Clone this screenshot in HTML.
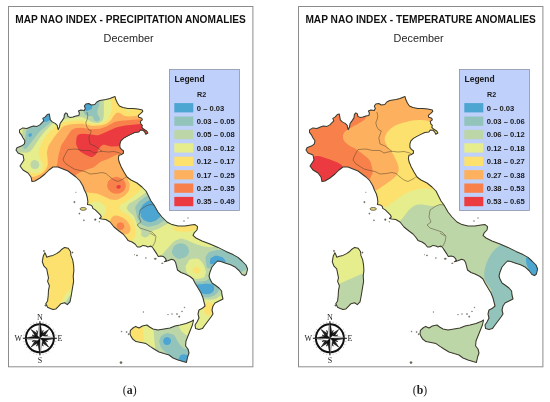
<!DOCTYPE html><html><head><meta charset="utf-8"><title>MAP NAO INDEX</title><style>html,body{margin:0;padding:0;background:#fff}svg{display:block}</style></head><body>
<svg width="550" height="402" viewBox="0 0 550 402">
<defs><clipPath id="land"><path d="M19.5,132.4 19.5,129.9 22.9,127.9 26.9,128.4 30.4,126.9 33.4,125.9 36.9,126.4 39.8,124.9 41.8,122.9 43.8,120.9 42.8,118.4 45.3,116.9 47.3,114.5 49.3,114.0 49.8,116.9 50.3,119.9 52.3,121.9 55.2,123.4 57.2,125.4 57.7,128.0 58.2,129.6 59.5,127.0 60.0,123.8 61.2,121.9 62.0,120.9 64.0,117.9 64.4,114.4 65.9,112.9 67.4,113.9 67.9,116.4 69.9,117.4 72.9,116.9 75.9,115.9 78.9,115.4 79.4,112.9 78.4,110.9 80.9,109.9 84.3,110.4 85.3,108.4 84.3,106.0 85.8,104.0 88.8,103.5 91.3,105.0 94.8,104.5 96.8,102.0 99.7,100.5 106.0,99.5 110.0,98.6 113.0,97.3 115.0,96.5 115.6,99.0 117.4,103.0 119.4,106.0 122.9,107.4 127.9,108.4 132.9,108.4 137.8,108.9 142.3,109.9 142.8,111.4 140.8,113.4 138.3,115.4 138.8,117.3 141.8,118.3 142.3,119.8 140.3,121.3 140.8,123.8 142.3,125.3 141.8,127.3 143.8,129.3 146.7,131.0 147.9,133.0 145.8,134.2 144.6,131.8 143.0,130.3 140.3,130.0 138.8,132.0 134.8,132.5 130.8,134.4 126.9,136.4 123.4,138.4 120.9,140.9 119.9,143.9 119.9,147.4 121.4,149.4 123.4,150.8 123.4,153.3 120.9,154.8 118.9,155.3 118.4,158.8 119.4,162.8 120.4,164.8 121.0,166.5 124.0,172.0 127.0,177.0 131.0,180.0 137.0,183.0 142.0,187.0 146.0,191.0 149.0,197.0 151.0,201.0 154.0,205.0 158.0,212.0 162.0,217.0 167.0,222.0 172.0,224.6 178.0,226.0 185.0,226.0 191.0,225.0 195.0,224.6 197.6,226.6 197.0,230.0 194.4,232.6 193.0,235.4 196.0,238.0 202.0,241.0 210.0,244.0 218.0,247.4 226.0,251.4 233.0,254.6 238.0,257.4 242.0,261.0 246.0,265.0 247.6,269.0 246.4,274.0 244.6,275.6 242.0,274.5 239.0,270.5 235.5,267.3 230.6,264.8 225.7,263.2 220.8,261.5 217.5,261.0 215.0,263.5 212.0,267.0 210.0,272.0 209.0,276.0 210.0,279.0 212.0,283.0 215.0,285.0 219.0,288.0 221.6,291.0 222.0,295.0 223.0,299.0 219.0,301.0 215.0,303.0 213.0,306.0 212.0,310.0 213.0,314.0 211.0,317.0 208.0,321.0 205.0,325.0 202.4,328.6 199.0,329.4 195.6,328.6 195.0,325.0 197.0,322.0 199.0,318.0 198.0,314.0 199.0,310.0 202.0,308.6 205.0,306.0 204.0,302.0 203.0,298.0 201.0,293.0 198.0,288.0 195.0,283.0 193.0,279.0 190.0,276.5 185.0,274.0 181.0,272.5 177.5,270.0 176.7,266.8 175.7,262.8 174.2,260.3 171.7,259.3 167.8,260.8 164.3,261.8 166.3,260.3 165.3,258.3 163.3,256.4 160.8,255.9 158.3,256.4 156.8,253.9 154.8,250.9 152.9,248.0 150.9,246.0 147.9,247.0 145.9,246.0 143.0,245.4 140.0,247.0 137.4,247.0 135.0,244.0 132.0,242.0 128.0,240.4 126.0,237.5 123.0,234.0 119.0,231.0 114.0,227.0 110.0,222.0 105.8,219.5 101.8,219.0 99.5,218.5 101.3,216.8 100.3,214.8 97.8,212.3 95.3,209.9 92.8,208.4 92.3,206.4 90.4,204.9 87.4,204.4 87.9,202.0 87.4,198.0 86.4,194.0 84.4,190.0 82.9,186.0 80.0,181.0 76.0,177.0 72.0,174.0 68.0,171.0 63.0,169.0 58.0,167.0 53.0,167.0 49.0,170.0 45.0,174.0 40.0,178.0 35.0,181.0 32.0,181.6 31.0,177.0 28.0,173.0 23.0,170.0 20.0,166.0 22.0,163.0 24.0,160.0 23.0,155.0 18.0,153.0 16.0,150.0 17.0,147.8 21.9,145.8 24.4,143.8 24.9,140.8 22.9,137.8 21.4,134.8ZM130.0,334.0 130.4,330.4 133.0,328.0 135.6,326.4 139.0,328.0 142.4,326.0 147.0,325.0 149.6,327.0 153.0,329.0 158.0,330.0 164.0,329.0 170.0,328.0 175.0,326.0 180.0,325.0 186.0,323.6 191.0,321.6 193.6,320.0 192.4,325.0 190.4,330.0 188.0,336.0 186.0,341.0 185.6,346.0 188.0,349.0 189.0,353.0 187.6,357.0 186.4,362.4 183.0,361.6 178.0,360.0 173.0,358.0 169.0,355.0 164.0,353.6 159.0,352.0 154.0,349.0 150.0,346.4 146.0,343.6 141.0,342.4 136.0,341.6 132.6,339.0 131.0,336.4ZM44.9,252.7 43.2,256.3 42.3,261.7 44.0,266.2 46.7,268.8 47.6,273.3 48.5,277.8 47.6,281.4 49.4,285.8 48.5,290.3 48.2,295.7 47.6,301.0 45.8,303.7 47.6,307.3 50.3,308.5 53.0,309.6 55.7,309.1 58.4,306.4 61.0,303.7 64.6,302.8 67.3,304.6 70.0,301.9 70.9,297.5 71.8,292.1 72.7,286.7 73.6,281.4 73.2,276.0 73.9,270.6 73.6,265.3 72.7,259.9 70.9,255.4 70.6,251.8 68.2,248.3 64.6,247.4 61.9,249.2 59.3,251.8 56.6,253.6 53.0,255.4 49.4,256.3 46.7,257.2 45.8,254.5Z"/></clipPath></defs>
<rect width="550" height="402" fill="#fff"/>
<rect x="8.5" y="6.5" width="244.4" height="360.3" fill="#fff" stroke="#8c8c8c" stroke-width="1"/>
<rect x="298.5" y="6.5" width="244.4" height="360.3" fill="#fff" stroke="#8c8c8c" stroke-width="1"/>
<g id="mapA">
<g clip-path="url(#land)">
<rect x="0" y="80" width="270" height="300" fill="#4DA6D2"/>
<path d="M269.5,379.6 259.5,379.5 258.5,378.5 257.0,378.0 254.5,376.0 253.0,375.5 252.0,374.5 251.5,374.5 249.5,373.0 248.0,372.5 245.5,370.5 245.0,370.5 244.5,370.0 244.0,370.0 243.5,369.5 243.0,369.5 242.5,369.0 242.0,369.0 241.5,368.5 241.0,368.5 240.5,368.0 240.0,368.0 239.5,367.5 239.0,367.5 238.5,367.0 235.0,365.5 234.0,364.5 233.5,364.5 233.0,364.0 232.5,364.0 232.0,363.5 231.5,363.5 231.0,363.0 230.5,363.0 230.0,362.5 229.5,362.5 229.0,362.0 228.5,362.0 228.0,361.5 227.5,361.5 227.0,361.0 226.5,361.0 226.0,360.5 225.5,360.5 225.0,360.0 224.5,360.0 224.0,359.5 223.5,359.5 223.0,359.0 222.5,359.0 222.0,358.5 218.5,357.0 216.5,355.5 215.5,355.5 214.0,354.5 211.5,354.0 211.0,353.5 210.5,353.5 210.0,353.0 209.0,353.0 207.5,352.0 206.0,352.0 205.5,352.5 204.5,352.5 204.0,353.0 203.0,353.0 202.5,353.5 201.5,353.5 201.0,354.0 200.0,354.0 199.5,354.5 198.5,354.5 198.0,355.0 197.0,355.0 196.5,355.5 194.5,354.9 192.4,352.5 191.5,352.2 188.8,354.5 187.5,355.2 184.0,354.3 182.0,354.5 180.8,355.0 179.6,356.5 178.5,359.2 177.1,361.5 173.9,379.5 106.5,379.8 0.0,379.8 -0.3,379.5 -0.3,60.5 0.0,53.8 1.0,54.5 1.6,55.5 24.5,103.2 29.0,110.4 34.0,115.5 40.0,118.5 41.4,120.0 43.0,121.0 45.0,121.8 46.5,121.9 48.5,120.9 51.5,117.5 56.8,115.0 57.8,114.0 56.9,112.0 47.4,45.5 46.9,41.0 47.0,39.7 47.5,39.5 50.0,44.6 71.0,96.8 72.0,98.0 80.8,105.0 81.6,106.0 82.0,107.3 84.0,108.3 86.0,111.0 87.0,111.0 88.5,110.2 91.5,109.2 92.2,107.5 92.3,104.5 89.0,95.5 65.3,0.0 105.5,-0.3 269.5,-0.3 269.8,0.0 269.6,227.0 269.8,375.0ZM31.1,136.5 31.8,135.5 31.9,134.0 31.0,133.2 29.5,133.2 28.4,134.5 28.5,136.0 29.5,136.9ZM151.7,222.0 155.5,220.8 159.6,217.5 160.6,216.0 159.9,214.0 152.9,202.5 151.5,200.7 150.0,200.1 147.0,201.5 143.0,204.5 140.4,209.0 140.1,211.5 140.9,216.5 143.6,220.0 145.4,221.0 148.5,222.1 150.0,222.2ZM214.6,264.0 225.0,262.7 225.5,262.5 225.8,261.5 224.3,259.0 222.5,257.2 217.5,255.7 215.5,255.6 213.5,256.4 210.9,258.0 210.3,259.0 209.9,261.5 209.9,263.0 210.5,264.1 212.0,264.3ZM209.0,294.0 211.5,293.0 213.1,291.5 214.0,290.1 214.1,288.5 213.8,286.0 213.5,284.9 213.0,284.5 206.5,283.6 201.0,284.3 197.0,284.4 196.0,285.0 196.1,286.0 196.8,287.5 199.2,291.5 200.5,293.0 205.5,294.3ZM72.5,303.0 72.9,302.5 72.2,301.5 71.5,301.1 71.0,301.3 70.7,302.5 71.5,303.0ZM78.4,358.0 87.0,341.4 94.8,325.5 94.3,325.0 69.5,314.0 67.0,313.4 67.0,314.3 77.0,355.9 77.7,358.0 78.0,358.4ZM167.8,345.0 169.0,344.5 170.2,343.5 170.9,342.0 171.1,340.5 170.5,339.0 169.7,338.0 168.0,337.2 166.5,337.1 165.0,337.7 164.0,338.5 163.3,340.0 163.1,341.5 163.6,343.0 164.5,344.2 166.0,345.0Z" fill="#92C4BC" fill-rule="evenodd"/>
<path d="M155.5,379.5 77.5,379.7 0.0,379.7 -0.2,379.5 0.0,55.0 0.8,56.0 6.7,68.0 26.1,108.5 26.7,113.0 25.8,119.5 25.6,125.5 26.0,126.2 27.0,126.5 30.5,125.7 31.4,126.0 30.6,127.0 26.8,130.0 26.0,131.5 25.2,138.0 23.2,147.0 23.5,148.8 25.0,149.1 26.3,148.5 27.5,147.3 38.4,133.0 40.8,130.5 51.5,122.1 58.1,118.0 62.5,116.0 70.0,113.9 78.3,111.0 81.5,110.3 82.3,110.5 83.0,111.1 84.8,114.5 86.0,115.5 87.5,115.9 91.5,116.1 92.5,116.4 93.0,117.1 93.9,120.0 95.0,120.8 96.5,121.4 97.5,121.4 98.5,121.0 99.6,120.0 99.8,119.0 99.5,117.5 97.7,114.5 97.2,112.0 97.5,110.0 99.5,104.0 99.2,100.5 95.3,87.5 72.5,0.0 269.5,-0.2 269.7,0.0 269.8,96.5 269.5,168.5 268.0,170.0 268.0,170.5 266.5,172.0 266.5,172.5 265.0,174.0 265.0,174.5 263.5,176.0 263.5,176.5 262.0,178.0 262.0,178.5 260.5,180.0 260.5,180.5 259.0,182.0 259.0,182.5 257.5,184.0 257.5,184.5 256.0,186.0 256.0,186.5 254.5,188.0 254.5,188.5 251.5,192.0 251.5,192.5 249.0,195.5 249.0,196.0 248.0,197.0 248.0,197.5 246.5,199.0 246.5,199.5 245.5,200.5 245.5,201.0 244.5,202.0 244.5,202.5 243.0,204.0 243.0,204.5 242.0,205.5 242.0,206.0 240.5,207.5 240.5,208.0 239.5,209.0 239.5,209.5 237.0,212.5 237.0,214.0 236.5,214.5 236.5,215.5 236.0,216.0 236.0,217.0 235.5,217.5 235.5,219.0 235.0,219.5 235.0,220.5 234.5,221.0 234.5,222.0 234.0,222.5 234.0,224.0 233.5,224.5 233.5,225.5 233.0,226.0 233.0,227.0 232.5,227.5 232.5,229.0 232.0,229.5 232.0,230.5 231.5,231.0 231.5,232.0 231.0,232.5 231.0,234.0 230.5,234.5 230.5,235.5 230.0,236.0 230.0,238.0 233.0,242.0 232.9,243.5 231.5,245.0 229.0,246.7 226.2,249.5 223.5,250.2 216.5,249.9 210.5,251.5 208.7,252.5 205.9,256.0 205.6,257.5 205.8,262.5 206.5,266.4 207.0,267.6 207.5,268.0 208.5,268.2 214.5,267.8 215.2,268.0 215.5,269.0 210.0,277.3 207.4,280.0 205.5,280.7 201.0,281.6 194.0,281.4 192.8,282.0 188.5,297.7 187.4,304.5 187.6,306.0 188.5,307.7 189.5,308.4 190.5,308.3 193.5,306.5 199.5,301.9 203.0,297.4 204.0,297.2 209.0,297.2 214.0,295.8 218.2,292.0 219.4,288.0 220.5,286.6 242.0,271.4 267.5,259.9 269.5,259.3 269.5,378.9 268.0,378.3 246.0,364.9 220.5,351.7 207.5,346.9 204.5,346.8 197.5,347.3 196.8,346.5 196.8,344.5 199.5,339.3 199.6,338.0 195.5,341.5 189.0,345.6 186.0,348.5 185.0,348.9 182.6,347.5 180.6,345.5 178.0,342.0 175.4,337.0 174.0,335.0 172.5,334.2 167.5,333.0 164.0,334.2 161.1,336.0 159.6,339.5 159.2,342.0 160.5,346.5 161.3,348.0 164.5,351.4 167.0,353.5 168.5,355.5 168.8,357.0 168.5,359.5 168.0,360.4 165.5,360.5 165.0,361.0 165.0,361.5 164.5,362.0 164.5,362.5 164.0,363.0 164.0,363.5 163.5,364.0 163.5,364.5 163.0,365.0 163.0,365.5 162.5,366.0 162.5,366.5 162.0,367.0 160.5,370.5 159.5,371.5 159.5,372.0 158.5,373.0 158.5,373.5 157.5,375.0 157.5,376.0 156.0,378.5 156.0,379.5ZM74.5,108.0 73.0,108.0 72.0,107.0 71.5,101.5 72.0,100.2 73.0,100.4 74.0,101.1 78.8,105.0 79.5,106.0 79.1,106.5 78.0,107.0ZM189.6,184.0 192.9,179.0 193.2,178.0 193.0,177.3 190.5,177.9 187.5,179.3 186.6,180.0 186.6,181.5 187.7,183.5 188.5,184.2ZM150.6,226.5 157.0,225.1 164.0,220.8 170.0,219.0 170.3,218.0 166.3,211.0 163.6,207.5 159.2,203.5 152.0,197.5 150.0,196.1 148.5,195.7 145.0,197.1 139.2,201.5 135.7,206.0 135.2,208.0 137.3,218.0 140.6,223.5 142.5,224.9 147.0,226.6 148.5,226.8ZM179.6,259.0 184.0,257.8 185.5,257.0 188.1,254.5 189.2,251.5 188.0,247.3 187.1,246.0 184.5,244.0 181.0,243.2 177.0,244.0 174.8,245.5 173.0,247.7 171.9,251.5 172.4,254.0 173.9,256.0 177.0,258.5ZM88.4,311.0 87.2,309.5 84.9,307.5 72.5,297.9 71.5,297.7 70.5,298.2 66.6,303.5 67.0,304.2 68.4,305.0 80.6,309.5 87.0,311.4 88.0,311.5ZM78.1,361.5 88.0,342.6 96.4,326.0 96.6,325.0 95.5,323.9 69.6,312.5 66.5,311.2 65.5,311.1 65.1,312.0 65.2,313.0 75.0,353.8 77.0,361.3 77.5,361.8Z" fill="#BDD6A8" fill-rule="evenodd"/>
<path d="M139.0,379.5 -0.1,379.5 0.0,162.6 2.2,162.0 12.8,157.5 16.5,155.5 18.5,155.2 19.5,153.0 20.0,152.6 27.0,152.8 30.0,151.5 32.0,149.4 39.7,138.0 43.4,133.0 51.5,124.6 53.0,123.7 57.5,122.5 63.5,119.1 78.5,116.9 81.0,116.9 82.5,117.3 88.0,119.7 92.0,122.3 97.5,123.1 99.0,122.8 101.0,121.8 102.0,121.0 103.0,119.5 103.8,115.0 103.9,104.0 103.5,99.0 101.5,94.0 83.5,22.0 83.4,20.5 81.5,14.0 80.9,10.5 80.0,8.0 80.0,6.5 79.6,6.0 79.5,4.5 79.0,3.5 79.0,0.0 269.5,-0.1 269.8,96.5 269.5,159.5 268.7,160.0 267.5,161.5 245.0,191.5 233.5,207.6 224.6,223.0 222.5,227.4 217.0,227.0 215.2,226.0 201.5,206.5 197.5,201.2 196.0,199.7 197.5,203.4 207.5,222.0 210.5,228.5 211.5,232.5 212.0,240.0 214.5,245.4 214.3,246.5 213.0,247.1 211.0,247.3 205.5,246.7 201.0,245.8 195.5,243.9 186.5,240.1 182.5,238.7 181.0,238.6 176.0,240.3 174.0,241.6 169.6,246.0 161.7,255.0 161.4,256.0 161.5,257.5 165.9,280.0 166.1,283.0 165.0,288.2 157.0,315.6 154.4,327.0 153.5,329.0 154.3,340.0 155.2,347.5 155.0,348.0 154.0,348.5 151.5,348.3 151.1,348.5 151.0,350.0 152.3,354.5 152.0,355.5 151.5,356.0 151.5,356.5 151.0,357.0 151.0,357.5 150.5,358.0 149.0,361.5 148.0,362.5 148.0,363.0 147.5,363.5 147.5,364.0 147.0,364.5 147.0,365.0 146.5,365.5 146.5,366.0 146.0,366.5 146.0,367.0 145.5,367.5 145.5,368.0 145.0,368.5 145.0,369.0 144.5,369.5 143.0,373.0 142.0,374.0 142.0,374.5 141.5,375.0 141.5,375.5 141.0,376.0 139.5,379.5ZM19.5,139.6 0.0,138.2 0.0,57.0 19.0,95.8 23.5,105.4 25.1,109.5 25.3,113.0 23.6,128.0 22.4,130.5 22.6,133.0 22.0,135.5 20.5,138.7ZM36.0,169.0 37.5,168.3 38.5,167.4 39.3,165.5 39.2,164.0 38.5,162.3 37.5,161.1 35.0,160.0 33.5,160.1 32.0,160.9 31.1,162.0 30.4,164.0 30.4,165.5 31.4,167.5 32.5,168.4 34.5,169.1ZM189.4,185.5 191.1,183.5 193.9,179.0 194.7,177.0 194.5,175.0 193.5,173.1 192.5,172.0 191.0,172.0 192.5,170.5 192.5,170.0 193.5,169.0 193.5,168.5 196.5,165.0 189.0,165.0 184.5,168.0 184.5,168.5 187.5,172.5 187.6,173.5 187.0,174.2 185.2,178.5 184.8,180.0 184.9,181.0 185.8,183.0 187.5,185.5 188.5,186.0ZM146.9,237.0 149.2,235.5 149.7,234.5 150.1,232.5 151.8,231.0 158.5,228.8 167.0,224.1 178.2,222.5 179.7,222.0 180.2,221.0 179.5,219.5 177.8,217.0 173.8,213.0 150.5,193.4 149.0,192.3 148.0,191.9 145.5,192.8 135.5,200.1 129.5,203.2 128.0,205.0 126.5,208.0 128.7,211.5 134.0,216.0 137.9,226.5 141.4,231.0 141.5,232.0 141.0,234.0 141.5,235.7 142.5,236.5 144.5,237.4 145.5,237.4ZM196.5,279.0 195.0,278.8 190.0,276.9 186.9,272.5 186.0,270.5 185.6,267.0 185.7,265.5 187.4,263.5 188.7,260.5 191.0,259.0 197.0,258.6 198.5,258.9 200.0,259.9 201.5,261.5 204.0,265.4 206.1,272.0 205.0,275.7 203.8,277.5 201.5,278.3ZM188.5,335.6 187.0,335.5 185.3,334.5 181.5,331.2 179.5,328.1 178.6,326.0 178.7,325.0 199.0,309.6 200.5,307.4 203.0,301.0 204.0,299.9 205.0,299.6 211.5,299.7 216.4,298.5 218.7,297.0 223.5,292.9 228.5,289.4 232.0,287.4 233.0,287.4 232.0,290.0 226.8,298.0 213.7,316.0 206.0,325.7 203.5,327.9 200.5,328.9 192.0,334.0ZM103.7,319.5 103.1,318.5 100.9,316.5 85.5,304.0 76.5,296.3 73.5,294.1 72.0,294.1 69.5,295.8 66.4,300.5 62.9,304.0 63.0,305.0 66.1,306.5 96.9,318.0 101.7,319.5ZM269.5,377.9 266.0,376.1 245.0,363.2 237.0,358.8 221.0,350.6 211.0,346.7 204.2,344.5 201.5,343.0 201.4,340.5 201.9,338.5 210.6,325.5 212.9,321.0 221.5,308.0 224.1,305.5 228.5,299.0 230.0,297.8 236.5,295.5 237.5,295.7 240.0,297.2 253.4,306.5 258.0,311.5 268.5,322.1 269.5,322.8ZM77.9,363.0 79.1,361.5 97.2,326.0 97.4,324.5 96.0,323.3 66.5,310.3 65.0,310.1 64.3,311.0 64.3,312.5 73.8,352.0 76.4,362.0 77.0,363.1Z" fill="#E6ED8C" fill-rule="evenodd"/>
<path d="M117.5,379.5 -0.0,379.5 0.0,204.0 1.5,202.5 1.5,202.0 4.5,198.5 4.5,198.0 5.5,197.0 5.5,196.5 7.0,195.0 7.0,194.5 8.5,193.0 8.5,192.5 9.5,191.5 9.5,191.0 11.0,189.5 11.0,189.0 12.5,187.5 12.5,187.0 14.0,185.5 14.0,185.0 15.0,184.0 15.0,183.5 16.5,182.0 16.5,181.5 19.0,178.5 19.5,178.5 19.5,179.0 20.1,179.5 24.0,180.8 25.7,182.5 26.5,185.8 28.2,190.5 31.5,203.9 31.5,201.9 25.8,174.5 25.7,172.0 26.5,171.4 32.0,173.0 36.5,172.9 39.0,171.9 41.1,170.5 42.1,169.5 43.0,166.0 43.0,164.0 39.2,156.5 38.6,153.5 38.7,151.5 40.2,146.5 43.5,139.4 47.4,134.0 49.0,132.2 55.7,126.5 64.0,122.3 70.0,121.1 76.5,120.5 82.5,120.8 92.0,124.1 99.0,124.2 101.5,123.4 105.9,121.0 108.1,119.0 109.1,117.5 110.7,113.0 111.7,108.5 111.7,105.0 111.3,102.5 109.0,96.5 104.6,71.5 104.5,69.5 104.1,68.5 104.0,66.0 103.5,65.0 103.5,62.0 103.0,61.5 103.0,57.5 102.5,57.0 102.5,53.5 102.0,53.0 102.0,49.0 101.5,48.5 101.5,44.5 101.0,44.0 101.0,40.0 100.5,39.5 100.5,35.5 100.0,35.0 100.0,31.5 99.5,31.0 99.5,27.0 99.0,26.5 99.0,22.5 98.5,22.0 98.5,18.0 98.0,17.5 98.0,13.5 97.5,13.0 97.5,9.5 97.0,9.0 97.0,5.0 96.5,4.5 96.5,0.0 269.5,-0.0 269.7,96.5 269.5,158.0 268.5,158.4 267.4,159.5 245.5,188.8 242.0,192.9 228.5,207.2 216.5,217.9 211.5,216.4 209.5,215.1 191.5,188.1 190.7,186.5 191.0,185.5 194.8,179.5 197.0,175.2 205.9,163.0 206.2,162.0 205.9,161.5 204.5,161.1 202.0,161.0 197.5,161.5 185.5,161.5 177.0,163.2 170.8,161.0 172.0,163.8 191.0,197.4 195.5,206.5 196.5,209.5 196.8,212.0 197.9,226.5 197.5,228.5 192.0,231.1 185.5,231.9 176.0,231.1 174.7,230.5 173.5,229.5 172.3,228.0 172.5,227.5 188.0,225.4 189.3,225.0 189.7,224.5 189.7,224.0 187.8,221.5 176.5,210.5 149.5,180.7 148.0,179.5 147.0,179.5 142.5,184.0 140.0,190.0 138.8,191.5 133.6,196.0 129.6,199.0 123.3,203.5 120.5,204.8 119.7,206.0 119.8,208.5 121.2,210.5 123.0,212.2 128.5,215.3 131.2,218.5 133.7,223.0 135.4,229.5 135.5,231.5 134.8,237.0 132.4,241.0 130.2,245.5 129.1,248.0 128.5,251.0 84.0,287.0 73.5,287.6 72.0,288.2 69.0,290.2 67.3,292.0 64.7,295.5 62.6,300.5 59.3,304.0 58.7,305.0 58.8,305.5 59.5,306.3 63.9,308.5 63.2,310.5 63.3,312.5 75.3,362.0 76.0,363.9 77.0,364.5 78.5,363.9 79.7,362.0 98.8,324.5 98.3,323.5 96.5,322.3 86.6,318.0 80.7,315.0 83.0,315.5 111.0,325.8 117.5,327.8 118.5,327.9 119.0,327.5 117.9,326.0 113.5,321.5 113.3,321.0 113.4,320.5 116.0,320.7 136.0,324.5 138.5,324.8 141.0,324.6 142.0,325.2 142.8,327.5 143.6,335.0 144.0,341.0 143.5,341.7 141.0,341.4 125.5,335.5 124.4,335.5 125.6,336.5 127.5,337.1 129.6,338.5 135.5,341.2 138.0,342.8 139.3,344.5 140.1,348.0 141.0,349.5 132.0,358.5 132.0,359.0 129.5,362.0 129.5,362.5 128.5,363.5 128.5,364.0 127.5,365.0 127.5,365.5 126.5,366.5 126.5,367.0 125.5,368.0 125.5,368.5 124.5,369.5 124.5,370.0 123.5,371.0 123.5,371.5 122.5,372.5 122.5,373.0 121.0,374.5 121.0,375.0 120.0,376.0 120.0,376.5 119.0,377.5 119.0,378.0 118.0,379.0 118.0,379.5ZM128.8,105.5 129.2,105.0 129.4,104.0 129.5,98.5 129.2,97.0 128.5,96.4 127.5,97.0 127.0,98.0 126.6,103.0 127.1,105.0 128.0,105.7ZM129.3,111.5 129.4,110.5 128.7,109.5 127.0,108.5 126.0,108.3 125.7,108.5 127.6,111.5 128.5,111.9ZM84.3,232.5 88.0,229.7 100.9,219.0 105.0,214.0 106.2,210.0 105.6,207.0 104.6,205.5 100.5,202.2 97.0,201.3 95.0,201.4 89.5,203.5 88.7,204.0 87.8,205.0 82.6,231.5 82.6,232.5 83.0,232.9ZM32.1,206.0 32.1,205.5 32.0,204.9 32.0,206.3ZM36.2,227.0 35.2,220.0 35.0,219.3 34.5,219.3 34.5,221.5 36.0,227.3ZM197.5,273.5 196.0,273.5 194.5,273.0 193.0,271.4 192.7,270.0 193.0,269.0 193.6,268.0 195.0,267.1 196.5,266.8 198.0,267.2 199.3,268.0 199.9,269.0 200.1,270.5 199.5,272.1 198.7,273.0ZM210.0,315.5 207.2,315.5 206.0,314.8 204.5,312.7 203.7,309.5 203.8,307.0 204.7,304.0 205.5,303.2 208.5,302.3 209.9,302.5 212.4,303.5 213.1,304.5 212.4,312.5 211.5,314.6ZM223.5,316.5 223.4,316.0 222.5,316.0 222.0,315.5 221.4,313.0 221.6,311.5 222.3,310.5 223.0,310.2 223.5,310.5 224.1,311.5 224.4,313.5 224.5,315.4Z" fill="#FDE16F" fill-rule="evenodd"/>
<path d="M49.0,227.0 43.5,227.3 42.5,226.6 41.5,224.5 38.0,210.7 31.3,180.0 31.1,177.5 31.5,177.0 34.5,176.8 40.5,174.2 43.5,172.0 45.7,169.5 47.3,166.5 47.8,164.5 47.5,158.0 46.8,152.5 48.5,145.8 54.2,137.0 61.1,128.5 63.2,126.5 65.0,125.7 69.5,124.6 77.5,123.7 82.5,123.8 92.5,126.0 101.5,125.3 106.0,123.9 108.2,122.5 111.1,120.0 113.5,116.1 115.5,113.8 116.5,113.0 118.0,112.6 120.0,113.1 123.5,115.5 126.5,116.3 129.0,116.5 140.0,115.4 141.5,115.8 143.5,117.7 144.0,117.4 145.0,115.7 146.0,115.4 160.0,115.2 172.5,114.0 185.8,111.0 269.5,90.3 269.5,129.2 265.4,131.0 224.5,152.2 208.0,160.4 201.0,160.4 197.5,160.8 186.0,160.9 179.5,161.3 174.0,160.7 172.5,160.3 170.8,158.5 156.0,136.5 149.9,128.5 150.0,129.3 152.5,134.1 174.0,171.7 180.0,183.1 181.3,186.5 181.9,189.0 182.7,200.0 182.5,202.5 181.5,202.5 179.0,200.2 148.0,166.2 147.0,165.8 146.5,166.0 144.0,168.1 142.5,168.6 132.0,167.1 130.0,167.1 129.0,167.6 127.8,169.5 126.8,175.0 127.0,177.0 129.7,184.0 129.7,185.5 128.9,190.5 127.6,192.5 124.4,196.0 118.0,199.5 115.5,200.0 110.5,199.6 99.0,194.2 96.5,193.5 85.5,192.3 67.5,191.1 64.5,191.1 63.0,191.5 62.1,192.5 61.6,194.0 56.0,223.9 55.5,224.8 54.5,225.5 51.5,226.6ZM1.0,223.0 0.0,223.1 0.0,212.9 1.5,211.7 6.1,206.0 23.0,186.9 23.5,186.6 25.0,187.3 26.0,188.6 26.8,191.0 32.5,216.5 32.5,218.6 32.0,219.1 31.0,219.5ZM124.0,234.5 121.0,234.8 119.0,234.4 116.0,232.6 113.3,230.0 110.9,224.0 110.3,221.0 111.2,218.0 113.5,216.1 115.0,215.6 118.0,215.8 123.0,217.7 126.6,220.5 129.4,224.5 130.2,226.5 130.6,229.0 129.8,232.0 129.0,233.1 127.5,234.0Z" fill="#FDB15E" fill-rule="evenodd"/>
<path d="M182.0,160.5 178.9,160.5 174.0,160.0 173.0,159.7 172.0,159.0 150.4,126.5 147.2,121.0 147.0,119.5 147.5,118.7 165.0,116.6 171.5,115.5 269.5,91.4 269.5,128.3 266.0,129.7 225.0,151.0 207.9,159.5 206.5,159.8 200.5,159.8 197.5,160.2ZM73.5,177.5 71.0,177.6 50.0,175.5 47.5,175.1 46.9,174.5 48.4,173.0 54.8,168.5 56.1,167.0 57.3,163.5 58.5,155.3 61.1,145.5 70.7,131.0 71.8,130.0 74.3,128.5 76.5,127.9 82.0,127.8 91.5,129.3 100.0,128.8 106.5,126.6 114.5,122.1 118.5,121.0 139.5,119.3 140.5,119.4 141.5,120.1 145.5,126.1 162.5,156.0 166.0,163.2 167.1,167.5 167.2,171.5 167.0,172.4 166.5,172.5 164.0,170.6 149.0,154.1 147.0,152.4 146.0,152.4 144.0,153.4 143.0,153.4 129.5,151.6 116.0,155.1 108.0,159.0 100.9,161.5 93.5,167.5 87.0,169.4 79.5,172.4 75.6,175.0 74.2,177.0ZM119.0,193.5 115.0,193.7 111.5,192.5 108.7,190.0 107.4,187.5 107.1,185.0 108.0,181.5 111.0,178.6 114.0,177.2 116.0,176.8 118.0,176.9 121.5,178.6 124.0,180.5 125.5,183.4 125.8,186.0 124.7,189.5 122.5,191.9ZM122.0,229.7 120.5,230.0 119.0,229.5 118.0,228.9 117.0,227.6 116.5,226.0 116.7,225.0 117.4,223.5 118.5,222.7 120.0,222.2 121.5,222.5 123.0,223.3 123.8,224.5 124.3,226.0 124.2,227.5 123.2,229.0Z" fill="#F8814B" fill-rule="evenodd"/>
<path d="M184.0,159.5 179.0,159.5 174.0,159.0 172.5,158.1 151.5,126.2 150.9,124.0 151.0,122.6 151.4,122.0 159.4,119.5 269.5,92.4 269.5,127.2 265.5,128.8 223.7,150.5 207.5,158.6 206.0,158.9 201.0,158.9 197.0,159.4ZM92.5,157.0 90.5,157.0 85.5,154.8 80.5,151.7 78.4,149.5 76.3,145.0 76.1,142.5 76.5,137.5 77.5,135.5 78.5,134.5 80.5,133.9 83.5,133.7 89.5,134.2 96.5,135.3 98.0,135.3 101.0,134.2 114.9,128.0 118.0,127.0 125.2,125.5 140.0,124.0 141.5,124.5 144.0,128.0 147.5,134.0 150.5,140.5 150.5,141.9 146.5,138.7 141.5,138.2 138.5,138.9 118.0,146.3 111.0,146.4 104.5,144.7 103.0,144.7 101.0,145.9 98.7,149.0 96.0,154.6ZM119.5,188.5 118.0,188.7 116.7,188.0 116.4,186.5 117.0,185.5 119.0,184.9 120.5,185.5 120.8,186.5 120.6,187.5Z" fill="#EB3B40" fill-rule="evenodd"/>
</g>
<ellipse cx="83.2" cy="208.9" rx="3.2" ry="1.4" fill="#E9DC78" stroke="#3a3a30" stroke-width="0.7"/><ellipse cx="74.4" cy="202.1" rx="0.72" ry="0.80" fill="#5a5238" stroke="#3a3a30" stroke-width="0.35" opacity="0.85"/><ellipse cx="75.9" cy="192.2" rx="0.32" ry="0.32" fill="#5a5238" stroke="#3a3a30" stroke-width="0.35" opacity="0.85"/><ellipse cx="79.4" cy="213.6" rx="0.64" ry="0.64" fill="#5a5238" stroke="#3a3a30" stroke-width="0.35" opacity="0.85"/><ellipse cx="83.9" cy="220.3" rx="0.64" ry="0.56" fill="#5a5238" stroke="#3a3a30" stroke-width="0.35" opacity="0.85"/><ellipse cx="95.3" cy="219.6" rx="0.88" ry="0.88" fill="#5a5238" stroke="#3a3a30" stroke-width="0.35" opacity="0.85"/><ellipse cx="99.3" cy="221.8" rx="0.48" ry="0.48" fill="#5a5238" stroke="#3a3a30" stroke-width="0.35" opacity="0.85"/><ellipse cx="136.9" cy="255.4" rx="0.64" ry="0.56" fill="#5a5238" stroke="#3a3a30" stroke-width="0.35" opacity="0.85"/><ellipse cx="134.5" cy="254.8" rx="0.32" ry="0.32" fill="#5a5238" stroke="#3a3a30" stroke-width="0.35" opacity="0.85"/><ellipse cx="145.9" cy="258" rx="0.56" ry="0.48" fill="#5a5238" stroke="#3a3a30" stroke-width="0.35" opacity="0.85"/><ellipse cx="155.3" cy="258.8" rx="1.20" ry="0.72" fill="#5a5238" stroke="#3a3a30" stroke-width="0.35" opacity="0.85"/><ellipse cx="162.3" cy="263.3" rx="0.96" ry="0.48" fill="#5a5238" stroke="#3a3a30" stroke-width="0.35" opacity="0.85"/><ellipse cx="184" cy="221" rx="0.56" ry="0.40" fill="#5a5238" stroke="#3a3a30" stroke-width="0.35" opacity="0.85"/><ellipse cx="188" cy="218" rx="0.40" ry="0.40" fill="#5a5238" stroke="#3a3a30" stroke-width="0.35" opacity="0.85"/><ellipse cx="168" cy="314.6" rx="0.48" ry="0.40" fill="#5a5238" stroke="#3a3a30" stroke-width="0.35" opacity="0.85"/><ellipse cx="172" cy="314" rx="0.48" ry="0.40" fill="#5a5238" stroke="#3a3a30" stroke-width="0.35" opacity="0.85"/><ellipse cx="177" cy="314" rx="0.64" ry="0.56" fill="#5a5238" stroke="#3a3a30" stroke-width="0.35" opacity="0.85"/><ellipse cx="179.2" cy="316.6" rx="0.64" ry="0.80" fill="#5a5238" stroke="#3a3a30" stroke-width="0.35" opacity="0.85"/><ellipse cx="182" cy="311.4" rx="0.56" ry="0.48" fill="#5a5238" stroke="#3a3a30" stroke-width="0.35" opacity="0.85"/><ellipse cx="184.4" cy="307.4" rx="0.48" ry="0.48" fill="#5a5238" stroke="#3a3a30" stroke-width="0.35" opacity="0.85"/><ellipse cx="121.6" cy="331.6" rx="0.56" ry="0.48" fill="#5a5238" stroke="#3a3a30" stroke-width="0.35" opacity="0.85"/><ellipse cx="126.6" cy="332" rx="0.72" ry="0.56" fill="#5a5238" stroke="#3a3a30" stroke-width="0.35" opacity="0.85"/><ellipse cx="128.6" cy="334.2" rx="0.56" ry="0.72" fill="#5a5238" stroke="#3a3a30" stroke-width="0.35" opacity="0.85"/><ellipse cx="121" cy="362.6" rx="1.20" ry="1.04" fill="#5a5238" stroke="#3a3a30" stroke-width="0.35" opacity="0.85"/><ellipse cx="143.4" cy="312" rx="0.48" ry="0.40" fill="#5a5238" stroke="#3a3a30" stroke-width="0.35" opacity="0.85"/><ellipse cx="44" cy="251" rx="0.56" ry="0.96" fill="#5a5238" stroke="#3a3a30" stroke-width="0.35" opacity="0.85"/><ellipse cx="45.5" cy="305.5" rx="0.80" ry="0.80" fill="#5a5238" stroke="#3a3a30" stroke-width="0.35" opacity="0.85"/><ellipse cx="72.5" cy="252.5" rx="0.64" ry="0.64" fill="#5a5238" stroke="#3a3a30" stroke-width="0.35" opacity="0.85"/><path d="M86.8,111.9 87.8,115.4 87.3,118.9 85.8,122.9 86.8,126.8 88.8,129.8 91.3,130.8 90.3,133.8 88.8,137.8 90.0,144.0 95.0,146.0 99.0,149.0 102.0,151.3 98.0,152.0 94.0,153.0 90.0,150.5 82.0,150.4 76.0,149.0 68.0,149.5 66.0,153.0 64.0,157.0 63.0,160.0M63.0,160.0 66.0,164.0 70.0,166.5 74.0,169.0 80.0,170.5 85.0,171.5 90.0,174.0 96.0,173.5 102.0,172.5 106.0,173.5 110.0,177.0 114.0,180.0 118.0,181.5 124.0,178.5 126.0,176.5M102.0,151.3 108.0,152.0 114.0,151.5 120.0,153.0 122.0,155.0M146.0,206.0 140.0,210.0 139.0,217.0 141.0,222.0 137.0,225.0 140.0,228.0 146.0,230.0 152.0,232.0 156.0,236.0 155.0,242.0 153.0,246.0 150.0,247.0M146.0,206.0 150.0,204.5 154.0,205.0M150.0,233.0 155.0,236.0" fill="none" stroke="#4a3c28" stroke-width="0.6" stroke-opacity="0.8"/><path d="M19.5,132.4 19.5,129.9 22.9,127.9 26.9,128.4 30.4,126.9 33.4,125.9 36.9,126.4 39.8,124.9 41.8,122.9 43.8,120.9 42.8,118.4 45.3,116.9 47.3,114.5 49.3,114.0 49.8,116.9 50.3,119.9 52.3,121.9 55.2,123.4 57.2,125.4 57.7,128.0 58.2,129.6 59.5,127.0 60.0,123.8 61.2,121.9 62.0,120.9 64.0,117.9 64.4,114.4 65.9,112.9 67.4,113.9 67.9,116.4 69.9,117.4 72.9,116.9 75.9,115.9 78.9,115.4 79.4,112.9 78.4,110.9 80.9,109.9 84.3,110.4 85.3,108.4 84.3,106.0 85.8,104.0 88.8,103.5 91.3,105.0 94.8,104.5 96.8,102.0 99.7,100.5 106.0,99.5 110.0,98.6 113.0,97.3 115.0,96.5 115.6,99.0 117.4,103.0 119.4,106.0 122.9,107.4 127.9,108.4 132.9,108.4 137.8,108.9 142.3,109.9 142.8,111.4 140.8,113.4 138.3,115.4 138.8,117.3 141.8,118.3 142.3,119.8 140.3,121.3 140.8,123.8 142.3,125.3 141.8,127.3 143.8,129.3 146.7,131.0 147.9,133.0 145.8,134.2 144.6,131.8 143.0,130.3 140.3,130.0 138.8,132.0 134.8,132.5 130.8,134.4 126.9,136.4 123.4,138.4 120.9,140.9 119.9,143.9 119.9,147.4 121.4,149.4 123.4,150.8 123.4,153.3 120.9,154.8 118.9,155.3 118.4,158.8 119.4,162.8 120.4,164.8 121.0,166.5 124.0,172.0 127.0,177.0 131.0,180.0 137.0,183.0 142.0,187.0 146.0,191.0 149.0,197.0 151.0,201.0 154.0,205.0 158.0,212.0 162.0,217.0 167.0,222.0 172.0,224.6 178.0,226.0 185.0,226.0 191.0,225.0 195.0,224.6 197.6,226.6 197.0,230.0 194.4,232.6 193.0,235.4 196.0,238.0 202.0,241.0 210.0,244.0 218.0,247.4 226.0,251.4 233.0,254.6 238.0,257.4 242.0,261.0 246.0,265.0 247.6,269.0 246.4,274.0 244.6,275.6 242.0,274.5 239.0,270.5 235.5,267.3 230.6,264.8 225.7,263.2 220.8,261.5 217.5,261.0 215.0,263.5 212.0,267.0 210.0,272.0 209.0,276.0 210.0,279.0 212.0,283.0 215.0,285.0 219.0,288.0 221.6,291.0 222.0,295.0 223.0,299.0 219.0,301.0 215.0,303.0 213.0,306.0 212.0,310.0 213.0,314.0 211.0,317.0 208.0,321.0 205.0,325.0 202.4,328.6 199.0,329.4 195.6,328.6 195.0,325.0 197.0,322.0 199.0,318.0 198.0,314.0 199.0,310.0 202.0,308.6 205.0,306.0 204.0,302.0 203.0,298.0 201.0,293.0 198.0,288.0 195.0,283.0 193.0,279.0 190.0,276.5 185.0,274.0 181.0,272.5 177.5,270.0 176.7,266.8 175.7,262.8 174.2,260.3 171.7,259.3 167.8,260.8 164.3,261.8 166.3,260.3 165.3,258.3 163.3,256.4 160.8,255.9 158.3,256.4 156.8,253.9 154.8,250.9 152.9,248.0 150.9,246.0 147.9,247.0 145.9,246.0 143.0,245.4 140.0,247.0 137.4,247.0 135.0,244.0 132.0,242.0 128.0,240.4 126.0,237.5 123.0,234.0 119.0,231.0 114.0,227.0 110.0,222.0 105.8,219.5 101.8,219.0 99.5,218.5 101.3,216.8 100.3,214.8 97.8,212.3 95.3,209.9 92.8,208.4 92.3,206.4 90.4,204.9 87.4,204.4 87.9,202.0 87.4,198.0 86.4,194.0 84.4,190.0 82.9,186.0 80.0,181.0 76.0,177.0 72.0,174.0 68.0,171.0 63.0,169.0 58.0,167.0 53.0,167.0 49.0,170.0 45.0,174.0 40.0,178.0 35.0,181.0 32.0,181.6 31.0,177.0 28.0,173.0 23.0,170.0 20.0,166.0 22.0,163.0 24.0,160.0 23.0,155.0 18.0,153.0 16.0,150.0 17.0,147.8 21.9,145.8 24.4,143.8 24.9,140.8 22.9,137.8 21.4,134.8ZM130.0,334.0 130.4,330.4 133.0,328.0 135.6,326.4 139.0,328.0 142.4,326.0 147.0,325.0 149.6,327.0 153.0,329.0 158.0,330.0 164.0,329.0 170.0,328.0 175.0,326.0 180.0,325.0 186.0,323.6 191.0,321.6 193.6,320.0 192.4,325.0 190.4,330.0 188.0,336.0 186.0,341.0 185.6,346.0 188.0,349.0 189.0,353.0 187.6,357.0 186.4,362.4 183.0,361.6 178.0,360.0 173.0,358.0 169.0,355.0 164.0,353.6 159.0,352.0 154.0,349.0 150.0,346.4 146.0,343.6 141.0,342.4 136.0,341.6 132.6,339.0 131.0,336.4ZM44.9,252.7 43.2,256.3 42.3,261.7 44.0,266.2 46.7,268.8 47.6,273.3 48.5,277.8 47.6,281.4 49.4,285.8 48.5,290.3 48.2,295.7 47.6,301.0 45.8,303.7 47.6,307.3 50.3,308.5 53.0,309.6 55.7,309.1 58.4,306.4 61.0,303.7 64.6,302.8 67.3,304.6 70.0,301.9 70.9,297.5 71.8,292.1 72.7,286.7 73.6,281.4 73.2,276.0 73.9,270.6 73.6,265.3 72.7,259.9 70.9,255.4 70.6,251.8 68.2,248.3 64.6,247.4 61.9,249.2 59.3,251.8 56.6,253.6 53.0,255.4 49.4,256.3 46.7,257.2 45.8,254.5Z" fill="none" stroke="#3a3a30" stroke-width="1.05" stroke-linejoin="round"/>
</g>
<g id="mapB" transform="translate(290,0)">
<g clip-path="url(#land)">
<rect x="0" y="80" width="270" height="300" fill="#F8814B"/>
<path d="M11.5,157.0 12.5,157.0 13.7,157.0 15.1,157.0 16.6,157.0 18.4,157.0 20.2,156.9 22.1,156.7 24.0,156.5 26.0,156.1 28.1,156.1 30.2,156.3 32.4,156.9 34.6,157.7 36.9,158.6 39.1,159.3 41.4,160.1 43.6,160.9 45.7,161.7 47.6,162.6 49.2,163.5 50.8,164.5 51.9,165.6 52.8,166.9 53.4,168.2 53.6,169.8 53.8,172.0 53.9,175.0 54.0,178.8 54.0,183.2 51.2,186.6 45.8,188.9 37.5,190.0 26.5,190.0 18.2,187.9 12.8,183.8 10.0,177.6 10.0,169.4 10.2,163.2 10.8,159.1Z" fill="#EB3B40"/>
<path d="M78.0,100.1 78.0,106.9 77.5,112.3 76.5,116.4 75.0,119.2 73.0,120.8 70.9,122.2 68.6,123.6 66.2,124.9 63.8,126.1 61.4,127.4 59.3,128.6 57.4,129.9 55.6,131.1 54.3,132.5 53.4,134.0 53.0,135.6 53.0,137.4 53.3,139.0 53.9,140.5 54.9,141.9 56.1,143.1 57.6,144.3 59.2,145.4 61.0,146.5 63.0,147.5 65.0,148.6 67.0,149.9 69.0,151.2 71.0,152.8 72.9,154.2 74.6,155.6 76.2,156.9 77.8,158.1 79.0,159.5 80.0,161.0 80.8,162.6 81.2,164.4 81.7,166.1 82.1,167.7 82.4,169.2 82.6,170.8 82.6,172.2 82.4,173.6 81.9,174.9 81.1,176.1 80.4,177.8 79.8,179.9 79.2,182.5 78.8,185.5 73.5,188.1 63.5,190.2 48.8,191.9 29.2,193.1 14.6,206.9 4.9,233.1 0.0,271.9 0.0,323.1 18.8,361.6 56.2,387.2 112.5,400.0 187.5,400.0 243.8,378.1 281.2,334.4 300.0,268.8 300.0,181.2 286.1,115.6 258.4,71.9 216.8,50.0 161.2,50.0 119.6,52.5 91.9,57.5 78.0,65.0 78.0,75.0 78.0,84.2 78.0,92.6Z" fill="#FDB15E"/>
<path d="M147.0,123.0 145.0,123.0 143.1,122.8 141.4,122.4 139.8,121.9 138.2,121.1 136.4,120.6 134.1,120.2 131.5,120.0 128.5,120.0 125.5,120.2 122.5,120.6 119.5,121.1 116.5,121.9 113.9,122.6 111.6,123.2 109.8,123.8 108.2,124.2 106.8,124.9 105.2,125.6 103.8,126.5 102.2,127.5 100.9,128.6 99.6,129.7 98.5,130.9 97.5,132.1 96.6,133.4 95.9,134.8 95.2,136.2 94.8,137.8 94.6,139.4 94.9,141.1 95.5,143.0 96.5,145.0 97.5,146.8 98.5,148.2 99.5,149.5 100.5,150.5 101.5,151.8 102.5,153.2 103.5,155.0 104.5,157.0 105.4,158.9 106.3,160.8 107.1,162.6 107.9,164.4 108.4,166.1 108.6,167.9 108.6,169.6 108.4,171.4 107.9,173.0 107.1,174.5 106.1,175.9 104.9,177.1 103.5,178.4 102.0,179.6 100.4,180.9 98.6,182.1 96.9,183.3 95.3,184.4 93.8,185.5 92.2,186.5 90.9,187.4 89.6,188.3 88.5,189.1 87.5,189.9 81.4,190.7 70.1,191.6 53.8,192.5 32.2,193.5 16.1,207.1 5.4,233.2 0.0,271.9 0.0,323.1 18.8,361.6 56.2,387.2 112.5,400.0 187.5,400.0 243.8,382.7 281.2,348.1 300.0,296.1 300.0,226.9 290.6,174.9 271.9,140.3 243.8,123.0 206.2,123.0 177.6,123.0 157.9,123.0Z" fill="#FDE16F"/>
<path d="M153.6,190.0 149.4,190.0 145.6,189.9 142.4,189.6 139.6,189.2 137.4,188.8 135.1,188.5 132.7,188.5 130.2,188.8 127.8,189.2 125.2,189.9 122.8,190.6 120.2,191.5 117.8,192.5 115.4,193.6 113.1,194.9 111.0,196.2 109.0,197.8 107.1,199.1 105.4,200.4 103.8,201.5 102.2,202.5 100.9,203.5 99.8,204.5 98.9,205.5 98.1,206.5 91.5,207.7 79.0,209.1 60.6,210.6 36.4,212.4 18.2,225.2 6.1,249.2 0.0,284.4 0.0,330.6 18.8,365.3 56.2,388.4 112.5,400.0 187.5,400.0 243.8,386.9 281.2,360.6 300.0,321.2 300.0,268.8 291.2,229.4 273.8,203.1 247.5,190.0 212.5,190.0 185.2,190.0 165.6,190.0Z" fill="#E6ED8C"/>
<path d="M163.6,204.0 159.4,204.0 155.6,204.2 152.4,204.5 149.6,204.9 147.4,205.6 145.2,205.9 143.1,206.1 141.0,205.9 139.0,205.6 137.0,205.2 135.0,204.9 133.0,204.6 131.0,204.4 129.1,204.4 127.2,204.7 125.4,205.3 123.6,206.2 122.0,207.2 120.5,208.4 119.1,209.8 117.9,211.2 116.7,212.7 115.6,214.2 114.5,215.6 113.5,216.9 112.6,218.1 111.9,219.0 111.2,219.8 110.8,220.2 109.1,221.8 106.4,224.4 102.5,228.1 97.5,232.9 93.1,238.5 89.4,245.0 86.2,252.4 83.8,260.6 81.5,266.8 79.5,270.9 77.8,273.0 76.2,273.0 74.2,273.4 71.8,274.1 68.8,275.2 65.2,276.8 61.8,278.2 58.4,279.8 55.1,281.2 51.9,282.8 49.0,284.1 46.5,285.2 44.4,286.1 42.6,286.9 38.8,287.6 32.9,288.2 25.0,288.8 15.0,289.2 7.5,296.5 2.5,310.5 0.0,331.2 0.0,358.8 18.8,379.4 56.2,393.1 112.5,400.0 187.5,400.0 243.8,387.8 281.2,363.2 300.0,326.5 300.0,277.5 291.9,240.8 275.6,216.2 251.2,204.0 218.8,204.0 193.3,204.0 174.9,204.0Z" fill="#BDD6A8"/>
<path d="M216.2,241.9 213.8,243.1 211.4,244.4 209.3,245.8 207.4,247.2 205.6,248.8 204.0,250.4 202.5,252.1 201.1,254.0 199.9,256.0 198.8,258.0 197.8,260.0 196.9,262.0 196.1,264.0 195.5,266.0 195.0,268.0 194.6,270.0 194.4,272.0 194.2,273.9 194.2,275.6 194.4,277.2 194.6,278.8 195.0,280.1 195.5,281.4 196.1,282.5 196.9,283.5 197.6,284.5 198.4,285.5 199.1,286.5 199.9,287.5 200.5,288.4 201.1,289.1 201.5,289.8 201.9,290.2 201.6,291.2 200.6,292.6 198.9,294.4 196.5,296.6 194.8,299.5 193.6,303.0 193.0,307.1 193.0,311.9 193.1,315.6 193.2,318.3 193.5,319.9 193.8,320.6 194.1,321.9 194.2,323.9 194.3,326.6 194.3,329.9 200.9,332.5 214.1,334.2 233.9,335.0 260.4,335.0 280.2,329.1 293.4,317.2 300.0,299.4 300.0,275.6 295.0,257.8 285.0,245.9 270.0,240.0 250.0,240.0 234.4,240.3 223.1,240.9Z" fill="#92C4BC"/>
<path d="M236.0,258.0 236.0,260.0 236.1,261.8 236.4,263.4 236.8,264.9 237.2,266.1 237.8,267.4 238.4,268.6 239.1,269.9 239.9,271.1 240.6,272.2 241.4,273.2 242.1,274.1 242.9,274.9 243.4,275.8 243.8,276.9 244.0,278.2 244.0,279.8 245.1,280.9 247.4,281.6 250.8,282.0 255.2,282.0 258.6,280.3 260.9,276.9 262.0,271.9 262.0,265.1 260.4,260.1 257.1,256.7 252.2,255.0 245.8,255.0 240.9,255.5 237.6,256.5Z" fill="#4DA6D2"/>
</g>
<ellipse cx="83.2" cy="208.9" rx="3.2" ry="1.4" fill="#E9DC78" stroke="#3a3a30" stroke-width="0.7"/><ellipse cx="74.4" cy="202.1" rx="0.72" ry="0.80" fill="#5a5238" stroke="#3a3a30" stroke-width="0.35" opacity="0.85"/><ellipse cx="75.9" cy="192.2" rx="0.32" ry="0.32" fill="#5a5238" stroke="#3a3a30" stroke-width="0.35" opacity="0.85"/><ellipse cx="79.4" cy="213.6" rx="0.64" ry="0.64" fill="#5a5238" stroke="#3a3a30" stroke-width="0.35" opacity="0.85"/><ellipse cx="83.9" cy="220.3" rx="0.64" ry="0.56" fill="#5a5238" stroke="#3a3a30" stroke-width="0.35" opacity="0.85"/><ellipse cx="95.3" cy="219.6" rx="0.88" ry="0.88" fill="#5a5238" stroke="#3a3a30" stroke-width="0.35" opacity="0.85"/><ellipse cx="99.3" cy="221.8" rx="0.48" ry="0.48" fill="#5a5238" stroke="#3a3a30" stroke-width="0.35" opacity="0.85"/><ellipse cx="136.9" cy="255.4" rx="0.64" ry="0.56" fill="#5a5238" stroke="#3a3a30" stroke-width="0.35" opacity="0.85"/><ellipse cx="134.5" cy="254.8" rx="0.32" ry="0.32" fill="#5a5238" stroke="#3a3a30" stroke-width="0.35" opacity="0.85"/><ellipse cx="145.9" cy="258" rx="0.56" ry="0.48" fill="#5a5238" stroke="#3a3a30" stroke-width="0.35" opacity="0.85"/><ellipse cx="155.3" cy="258.8" rx="1.20" ry="0.72" fill="#5a5238" stroke="#3a3a30" stroke-width="0.35" opacity="0.85"/><ellipse cx="162.3" cy="263.3" rx="0.96" ry="0.48" fill="#5a5238" stroke="#3a3a30" stroke-width="0.35" opacity="0.85"/><ellipse cx="184" cy="221" rx="0.56" ry="0.40" fill="#5a5238" stroke="#3a3a30" stroke-width="0.35" opacity="0.85"/><ellipse cx="188" cy="218" rx="0.40" ry="0.40" fill="#5a5238" stroke="#3a3a30" stroke-width="0.35" opacity="0.85"/><ellipse cx="168" cy="314.6" rx="0.48" ry="0.40" fill="#5a5238" stroke="#3a3a30" stroke-width="0.35" opacity="0.85"/><ellipse cx="172" cy="314" rx="0.48" ry="0.40" fill="#5a5238" stroke="#3a3a30" stroke-width="0.35" opacity="0.85"/><ellipse cx="177" cy="314" rx="0.64" ry="0.56" fill="#5a5238" stroke="#3a3a30" stroke-width="0.35" opacity="0.85"/><ellipse cx="179.2" cy="316.6" rx="0.64" ry="0.80" fill="#5a5238" stroke="#3a3a30" stroke-width="0.35" opacity="0.85"/><ellipse cx="182" cy="311.4" rx="0.56" ry="0.48" fill="#5a5238" stroke="#3a3a30" stroke-width="0.35" opacity="0.85"/><ellipse cx="184.4" cy="307.4" rx="0.48" ry="0.48" fill="#5a5238" stroke="#3a3a30" stroke-width="0.35" opacity="0.85"/><ellipse cx="121.6" cy="331.6" rx="0.56" ry="0.48" fill="#5a5238" stroke="#3a3a30" stroke-width="0.35" opacity="0.85"/><ellipse cx="126.6" cy="332" rx="0.72" ry="0.56" fill="#5a5238" stroke="#3a3a30" stroke-width="0.35" opacity="0.85"/><ellipse cx="128.6" cy="334.2" rx="0.56" ry="0.72" fill="#5a5238" stroke="#3a3a30" stroke-width="0.35" opacity="0.85"/><ellipse cx="121" cy="362.6" rx="1.20" ry="1.04" fill="#5a5238" stroke="#3a3a30" stroke-width="0.35" opacity="0.85"/><ellipse cx="143.4" cy="312" rx="0.48" ry="0.40" fill="#5a5238" stroke="#3a3a30" stroke-width="0.35" opacity="0.85"/><ellipse cx="44" cy="251" rx="0.56" ry="0.96" fill="#5a5238" stroke="#3a3a30" stroke-width="0.35" opacity="0.85"/><ellipse cx="45.5" cy="305.5" rx="0.80" ry="0.80" fill="#5a5238" stroke="#3a3a30" stroke-width="0.35" opacity="0.85"/><ellipse cx="72.5" cy="252.5" rx="0.64" ry="0.64" fill="#5a5238" stroke="#3a3a30" stroke-width="0.35" opacity="0.85"/><path d="M86.8,111.9 87.8,115.4 87.3,118.9 85.8,122.9 86.8,126.8 88.8,129.8 91.3,130.8 90.3,133.8 88.8,137.8 90.0,144.0 95.0,146.0 99.0,149.0 102.0,151.3 98.0,152.0 94.0,153.0 90.0,150.5 82.0,150.4 76.0,149.0 68.0,149.5 66.0,153.0 64.0,157.0 63.0,160.0M63.0,160.0 66.0,164.0 70.0,166.5 74.0,169.0 80.0,170.5 85.0,171.5 90.0,174.0 96.0,173.5 102.0,172.5 106.0,173.5 110.0,177.0 114.0,180.0 118.0,181.5 124.0,178.5 126.0,176.5M102.0,151.3 108.0,152.0 114.0,151.5 120.0,153.0 122.0,155.0M146.0,206.0 140.0,210.0 139.0,217.0 141.0,222.0 137.0,225.0 140.0,228.0 146.0,230.0 152.0,232.0 156.0,236.0 155.0,242.0 153.0,246.0 150.0,247.0M146.0,206.0 150.0,204.5 154.0,205.0M150.0,233.0 155.0,236.0" fill="none" stroke="#4a3c28" stroke-width="0.6" stroke-opacity="0.8"/><path d="M19.5,132.4 19.5,129.9 22.9,127.9 26.9,128.4 30.4,126.9 33.4,125.9 36.9,126.4 39.8,124.9 41.8,122.9 43.8,120.9 42.8,118.4 45.3,116.9 47.3,114.5 49.3,114.0 49.8,116.9 50.3,119.9 52.3,121.9 55.2,123.4 57.2,125.4 57.7,128.0 58.2,129.6 59.5,127.0 60.0,123.8 61.2,121.9 62.0,120.9 64.0,117.9 64.4,114.4 65.9,112.9 67.4,113.9 67.9,116.4 69.9,117.4 72.9,116.9 75.9,115.9 78.9,115.4 79.4,112.9 78.4,110.9 80.9,109.9 84.3,110.4 85.3,108.4 84.3,106.0 85.8,104.0 88.8,103.5 91.3,105.0 94.8,104.5 96.8,102.0 99.7,100.5 106.0,99.5 110.0,98.6 113.0,97.3 115.0,96.5 115.6,99.0 117.4,103.0 119.4,106.0 122.9,107.4 127.9,108.4 132.9,108.4 137.8,108.9 142.3,109.9 142.8,111.4 140.8,113.4 138.3,115.4 138.8,117.3 141.8,118.3 142.3,119.8 140.3,121.3 140.8,123.8 142.3,125.3 141.8,127.3 143.8,129.3 146.7,131.0 147.9,133.0 145.8,134.2 144.6,131.8 143.0,130.3 140.3,130.0 138.8,132.0 134.8,132.5 130.8,134.4 126.9,136.4 123.4,138.4 120.9,140.9 119.9,143.9 119.9,147.4 121.4,149.4 123.4,150.8 123.4,153.3 120.9,154.8 118.9,155.3 118.4,158.8 119.4,162.8 120.4,164.8 121.0,166.5 124.0,172.0 127.0,177.0 131.0,180.0 137.0,183.0 142.0,187.0 146.0,191.0 149.0,197.0 151.0,201.0 154.0,205.0 158.0,212.0 162.0,217.0 167.0,222.0 172.0,224.6 178.0,226.0 185.0,226.0 191.0,225.0 195.0,224.6 197.6,226.6 197.0,230.0 194.4,232.6 193.0,235.4 196.0,238.0 202.0,241.0 210.0,244.0 218.0,247.4 226.0,251.4 233.0,254.6 238.0,257.4 242.0,261.0 246.0,265.0 247.6,269.0 246.4,274.0 244.6,275.6 242.0,274.5 239.0,270.5 235.5,267.3 230.6,264.8 225.7,263.2 220.8,261.5 217.5,261.0 215.0,263.5 212.0,267.0 210.0,272.0 209.0,276.0 210.0,279.0 212.0,283.0 215.0,285.0 219.0,288.0 221.6,291.0 222.0,295.0 223.0,299.0 219.0,301.0 215.0,303.0 213.0,306.0 212.0,310.0 213.0,314.0 211.0,317.0 208.0,321.0 205.0,325.0 202.4,328.6 199.0,329.4 195.6,328.6 195.0,325.0 197.0,322.0 199.0,318.0 198.0,314.0 199.0,310.0 202.0,308.6 205.0,306.0 204.0,302.0 203.0,298.0 201.0,293.0 198.0,288.0 195.0,283.0 193.0,279.0 190.0,276.5 185.0,274.0 181.0,272.5 177.5,270.0 176.7,266.8 175.7,262.8 174.2,260.3 171.7,259.3 167.8,260.8 164.3,261.8 166.3,260.3 165.3,258.3 163.3,256.4 160.8,255.9 158.3,256.4 156.8,253.9 154.8,250.9 152.9,248.0 150.9,246.0 147.9,247.0 145.9,246.0 143.0,245.4 140.0,247.0 137.4,247.0 135.0,244.0 132.0,242.0 128.0,240.4 126.0,237.5 123.0,234.0 119.0,231.0 114.0,227.0 110.0,222.0 105.8,219.5 101.8,219.0 99.5,218.5 101.3,216.8 100.3,214.8 97.8,212.3 95.3,209.9 92.8,208.4 92.3,206.4 90.4,204.9 87.4,204.4 87.9,202.0 87.4,198.0 86.4,194.0 84.4,190.0 82.9,186.0 80.0,181.0 76.0,177.0 72.0,174.0 68.0,171.0 63.0,169.0 58.0,167.0 53.0,167.0 49.0,170.0 45.0,174.0 40.0,178.0 35.0,181.0 32.0,181.6 31.0,177.0 28.0,173.0 23.0,170.0 20.0,166.0 22.0,163.0 24.0,160.0 23.0,155.0 18.0,153.0 16.0,150.0 17.0,147.8 21.9,145.8 24.4,143.8 24.9,140.8 22.9,137.8 21.4,134.8ZM130.0,334.0 130.4,330.4 133.0,328.0 135.6,326.4 139.0,328.0 142.4,326.0 147.0,325.0 149.6,327.0 153.0,329.0 158.0,330.0 164.0,329.0 170.0,328.0 175.0,326.0 180.0,325.0 186.0,323.6 191.0,321.6 193.6,320.0 192.4,325.0 190.4,330.0 188.0,336.0 186.0,341.0 185.6,346.0 188.0,349.0 189.0,353.0 187.6,357.0 186.4,362.4 183.0,361.6 178.0,360.0 173.0,358.0 169.0,355.0 164.0,353.6 159.0,352.0 154.0,349.0 150.0,346.4 146.0,343.6 141.0,342.4 136.0,341.6 132.6,339.0 131.0,336.4ZM44.9,252.7 43.2,256.3 42.3,261.7 44.0,266.2 46.7,268.8 47.6,273.3 48.5,277.8 47.6,281.4 49.4,285.8 48.5,290.3 48.2,295.7 47.6,301.0 45.8,303.7 47.6,307.3 50.3,308.5 53.0,309.6 55.7,309.1 58.4,306.4 61.0,303.7 64.6,302.8 67.3,304.6 70.0,301.9 70.9,297.5 71.8,292.1 72.7,286.7 73.6,281.4 73.2,276.0 73.9,270.6 73.6,265.3 72.7,259.9 70.9,255.4 70.6,251.8 68.2,248.3 64.6,247.4 61.9,249.2 59.3,251.8 56.6,253.6 53.0,255.4 49.4,256.3 46.7,257.2 45.8,254.5Z" fill="none" stroke="#3a3a30" stroke-width="1.05" stroke-linejoin="round"/>
</g>
<text x="15.2" y="22.6" font-size="10.05" font-weight="bold" fill="#111" textLength="230.6" lengthAdjust="spacingAndGlyphs" font-family="Liberation Sans, Arial, sans-serif">MAP NAO INDEX - PRECIPITATION ANOMALIES</text>
<text x="305.4" y="22.6" font-size="10.05" font-weight="bold" fill="#111" textLength="230.4" lengthAdjust="spacingAndGlyphs" font-family="Liberation Sans, Arial, sans-serif">MAP NAO INDEX - TEMPERATURE ANOMALIES</text>
<text x="103.6" y="42.3" font-size="10.85" fill="#262626" font-family="Liberation Sans, Arial, sans-serif">December</text>
<text x="393.6" y="42.3" font-size="10.85" fill="#262626" font-family="Liberation Sans, Arial, sans-serif">December</text>
<rect x="169.4" y="69.5" width="70" height="141" fill="#BFD0FA" stroke="#8a93a8" stroke-width="0.8"/><text x="174.6" y="82" font-size="8.46" font-family="Liberation Sans, Arial, sans-serif" font-weight="bold" fill="#1a1a1a">Legend</text><text x="197" y="97.2" font-size="7.2" font-family="Liberation Sans, Arial, sans-serif" font-weight="bold" fill="#1a1a1a">R2</text><rect x="174.3" y="103.1" width="19" height="9.3" fill="#4DA6D2"/><text x="196.8" y="110.6" font-size="7.6" font-family="Liberation Sans, Arial, sans-serif" font-weight="bold" fill="#1a1a1a">0 – 0.03</text><rect x="174.3" y="116.5" width="19" height="9.3" fill="#92C4BC"/><text x="196.8" y="124.0" font-size="7.6" font-family="Liberation Sans, Arial, sans-serif" font-weight="bold" fill="#1a1a1a">0.03 – 0.05</text><rect x="174.3" y="129.9" width="19" height="9.3" fill="#BDD6A8"/><text x="196.8" y="137.4" font-size="7.6" font-family="Liberation Sans, Arial, sans-serif" font-weight="bold" fill="#1a1a1a">0.05 – 0.08</text><rect x="174.3" y="143.3" width="19" height="9.3" fill="#E6ED8C"/><text x="196.8" y="150.8" font-size="7.6" font-family="Liberation Sans, Arial, sans-serif" font-weight="bold" fill="#1a1a1a">0.08 – 0.12</text><rect x="174.3" y="156.7" width="19" height="9.3" fill="#FDE16F"/><text x="196.8" y="164.2" font-size="7.6" font-family="Liberation Sans, Arial, sans-serif" font-weight="bold" fill="#1a1a1a">0.12 – 0.17</text><rect x="174.3" y="170.1" width="19" height="9.3" fill="#FDB15E"/><text x="196.8" y="177.6" font-size="7.6" font-family="Liberation Sans, Arial, sans-serif" font-weight="bold" fill="#1a1a1a">0.17 – 0.25</text><rect x="174.3" y="183.5" width="19" height="9.3" fill="#F8814B"/><text x="196.8" y="191.0" font-size="7.6" font-family="Liberation Sans, Arial, sans-serif" font-weight="bold" fill="#1a1a1a">0.25 – 0.35</text><rect x="174.3" y="196.9" width="19" height="9.3" fill="#EB3B40"/><text x="196.8" y="204.4" font-size="7.6" font-family="Liberation Sans, Arial, sans-serif" font-weight="bold" fill="#1a1a1a">0.35 – 0.49</text>
<rect x="459.4" y="69.5" width="70" height="141" fill="#BFD0FA" stroke="#8a93a8" stroke-width="0.8"/><text x="464.6" y="82" font-size="8.46" font-family="Liberation Sans, Arial, sans-serif" font-weight="bold" fill="#1a1a1a">Legend</text><text x="487" y="97.2" font-size="7.2" font-family="Liberation Sans, Arial, sans-serif" font-weight="bold" fill="#1a1a1a">R2</text><rect x="464.3" y="103.1" width="19" height="9.3" fill="#4DA6D2"/><text x="486.8" y="110.6" font-size="7.6" font-family="Liberation Sans, Arial, sans-serif" font-weight="bold" fill="#1a1a1a">0 – 0.03</text><rect x="464.3" y="116.5" width="19" height="9.3" fill="#92C4BC"/><text x="486.8" y="124.0" font-size="7.6" font-family="Liberation Sans, Arial, sans-serif" font-weight="bold" fill="#1a1a1a">0.03 – 0.06</text><rect x="464.3" y="129.9" width="19" height="9.3" fill="#BDD6A8"/><text x="486.8" y="137.4" font-size="7.6" font-family="Liberation Sans, Arial, sans-serif" font-weight="bold" fill="#1a1a1a">0.06 – 0.12</text><rect x="464.3" y="143.3" width="19" height="9.3" fill="#E6ED8C"/><text x="486.8" y="150.8" font-size="7.6" font-family="Liberation Sans, Arial, sans-serif" font-weight="bold" fill="#1a1a1a">0.12 – 0.18</text><rect x="464.3" y="156.7" width="19" height="9.3" fill="#FDE16F"/><text x="486.8" y="164.2" font-size="7.6" font-family="Liberation Sans, Arial, sans-serif" font-weight="bold" fill="#1a1a1a">0.18 – 0.27</text><rect x="464.3" y="170.1" width="19" height="9.3" fill="#FDB15E"/><text x="486.8" y="177.6" font-size="7.6" font-family="Liberation Sans, Arial, sans-serif" font-weight="bold" fill="#1a1a1a">0.27 – 0.38</text><rect x="464.3" y="183.5" width="19" height="9.3" fill="#F8814B"/><text x="486.8" y="191.0" font-size="7.6" font-family="Liberation Sans, Arial, sans-serif" font-weight="bold" fill="#1a1a1a">0.38 – 0.53</text><rect x="464.3" y="196.9" width="19" height="9.3" fill="#EB3B40"/><text x="486.8" y="204.4" font-size="7.6" font-family="Liberation Sans, Arial, sans-serif" font-weight="bold" fill="#1a1a1a">0.53 – 0.65</text>
<g transform="translate(39.9,338.3)"><circle r="14" fill="#fff" stroke="#111" stroke-width="2"/><line x1="3.04" y1="-15.30" x2="3.28" y2="-16.48" stroke="#555" stroke-width="0.4"/><line x1="5.97" y1="-14.41" x2="6.43" y2="-15.52" stroke="#555" stroke-width="0.4"/><line x1="8.67" y1="-12.97" x2="9.33" y2="-13.97" stroke="#555" stroke-width="0.4"/><line x1="12.97" y1="-8.67" x2="13.97" y2="-9.33" stroke="#555" stroke-width="0.4"/><line x1="14.41" y1="-5.97" x2="15.52" y2="-6.43" stroke="#555" stroke-width="0.4"/><line x1="15.30" y1="-3.04" x2="16.48" y2="-3.28" stroke="#555" stroke-width="0.4"/><line x1="15.30" y1="3.04" x2="16.48" y2="3.28" stroke="#555" stroke-width="0.4"/><line x1="14.41" y1="5.97" x2="15.52" y2="6.43" stroke="#555" stroke-width="0.4"/><line x1="12.97" y1="8.67" x2="13.97" y2="9.33" stroke="#555" stroke-width="0.4"/><line x1="8.67" y1="12.97" x2="9.33" y2="13.97" stroke="#555" stroke-width="0.4"/><line x1="5.97" y1="14.41" x2="6.43" y2="15.52" stroke="#555" stroke-width="0.4"/><line x1="3.04" y1="15.30" x2="3.28" y2="16.48" stroke="#555" stroke-width="0.4"/><line x1="-3.04" y1="15.30" x2="-3.28" y2="16.48" stroke="#555" stroke-width="0.4"/><line x1="-5.97" y1="14.41" x2="-6.43" y2="15.52" stroke="#555" stroke-width="0.4"/><line x1="-8.67" y1="12.97" x2="-9.33" y2="13.97" stroke="#555" stroke-width="0.4"/><line x1="-12.97" y1="8.67" x2="-13.97" y2="9.33" stroke="#555" stroke-width="0.4"/><line x1="-14.41" y1="5.97" x2="-15.52" y2="6.43" stroke="#555" stroke-width="0.4"/><line x1="-15.30" y1="3.04" x2="-16.48" y2="3.28" stroke="#555" stroke-width="0.4"/><line x1="-15.30" y1="-3.04" x2="-16.48" y2="-3.28" stroke="#555" stroke-width="0.4"/><line x1="-14.41" y1="-5.97" x2="-15.52" y2="-6.43" stroke="#555" stroke-width="0.4"/><line x1="-12.97" y1="-8.67" x2="-13.97" y2="-9.33" stroke="#555" stroke-width="0.4"/><line x1="-8.67" y1="-12.97" x2="-9.33" y2="-13.97" stroke="#555" stroke-width="0.4"/><line x1="-5.97" y1="-14.41" x2="-6.43" y2="-15.52" stroke="#555" stroke-width="0.4"/><line x1="-3.04" y1="-15.30" x2="-3.28" y2="-16.48" stroke="#555" stroke-width="0.4"/><path d="M0,0L-0.69,-1.66L3.25,-7.85Z" fill="#111" stroke="#111" stroke-width="0.35"/><path d="M0,0L1.66,-0.69L3.25,-7.85Z" fill="#111" stroke="#111" stroke-width="0.35"/><path d="M0,0L1.66,-0.69L7.85,3.25Z" fill="#111" stroke="#111" stroke-width="0.35"/><path d="M0,0L0.69,1.66L7.85,3.25Z" fill="#111" stroke="#111" stroke-width="0.35"/><path d="M0,0L0.69,1.66L-3.25,7.85Z" fill="#111" stroke="#111" stroke-width="0.35"/><path d="M0,0L-1.66,0.69L-3.25,7.85Z" fill="#111" stroke="#111" stroke-width="0.35"/><path d="M0,0L-1.66,0.69L-7.85,-3.25Z" fill="#111" stroke="#111" stroke-width="0.35"/><path d="M0,0L-0.69,-1.66L-7.85,-3.25Z" fill="#111" stroke="#111" stroke-width="0.35"/><path d="M0,0L0.69,-1.66L7.85,-3.25Z" fill="#111" stroke="#111" stroke-width="0.35"/><path d="M0,0L1.66,0.69L7.85,-3.25Z" fill="#111" stroke="#111" stroke-width="0.35"/><path d="M0,0L1.66,0.69L3.25,7.85Z" fill="#111" stroke="#111" stroke-width="0.35"/><path d="M0,0L-0.69,1.66L3.25,7.85Z" fill="#111" stroke="#111" stroke-width="0.35"/><path d="M0,0L-0.69,1.66L-7.85,3.25Z" fill="#111" stroke="#111" stroke-width="0.35"/><path d="M0,0L-1.66,-0.69L-7.85,3.25Z" fill="#111" stroke="#111" stroke-width="0.35"/><path d="M0,0L-1.66,-0.69L-3.25,-7.85Z" fill="#111" stroke="#111" stroke-width="0.35"/><path d="M0,0L0.69,-1.66L-3.25,-7.85Z" fill="#111" stroke="#111" stroke-width="0.35"/><path d="M0,0L0.00,-3.30L8.77,-8.77Z" fill="#111" stroke="#111" stroke-width="0.35"/><path d="M0,0L3.30,-0.00L8.77,-8.77Z" fill="#111" stroke="#111" stroke-width="0.35"/><path d="M0,0L3.30,-0.00L8.77,8.77Z" fill="#111" stroke="#111" stroke-width="0.35"/><path d="M0,0L0.00,3.30L8.77,8.77Z" fill="#111" stroke="#111" stroke-width="0.35"/><path d="M0,0L0.00,3.30L-8.77,8.77Z" fill="#111" stroke="#111" stroke-width="0.35"/><path d="M0,0L-3.30,0.00L-8.77,8.77Z" fill="#111" stroke="#111" stroke-width="0.35"/><path d="M0,0L-3.30,0.00L-8.77,-8.77Z" fill="#111" stroke="#111" stroke-width="0.35"/><path d="M0,0L-0.00,-3.30L-8.77,-8.77Z" fill="#111" stroke="#111" stroke-width="0.35"/><path d="M0,0L-2.55,-2.55L0.00,-17.00Z" fill="#fff" stroke="#111" stroke-width="0.35"/><path d="M0,0L2.55,-2.55L0.00,-17.00Z" fill="#111" stroke="#111" stroke-width="0.35"/><path d="M0,0L2.55,-2.55L17.00,-0.00Z" fill="#fff" stroke="#111" stroke-width="0.35"/><path d="M0,0L2.55,2.55L17.00,-0.00Z" fill="#111" stroke="#111" stroke-width="0.35"/><path d="M0,0L2.55,2.55L0.00,17.00Z" fill="#fff" stroke="#111" stroke-width="0.35"/><path d="M0,0L-2.55,2.55L0.00,17.00Z" fill="#111" stroke="#111" stroke-width="0.35"/><path d="M0,0L-2.55,2.55L-17.00,0.00Z" fill="#fff" stroke="#111" stroke-width="0.35"/><path d="M0,0L-2.55,-2.55L-17.00,0.00Z" fill="#111" stroke="#111" stroke-width="0.35"/></g><text x="39.9" y="320.0" font-family="Liberation Serif, serif" font-size="8" fill="#222" text-anchor="middle">N</text><text x="39.9" y="363.3" font-family="Liberation Serif, serif" font-size="8" fill="#222" text-anchor="middle">S</text><text x="18.4" y="341.1" font-family="Liberation Serif, serif" font-size="8" fill="#222" text-anchor="middle">W</text><text x="59.9" y="341.1" font-family="Liberation Serif, serif" font-size="8" fill="#222" text-anchor="middle">E</text>
<g transform="translate(329.9,338.3)"><circle r="14" fill="#fff" stroke="#111" stroke-width="2"/><line x1="3.04" y1="-15.30" x2="3.28" y2="-16.48" stroke="#555" stroke-width="0.4"/><line x1="5.97" y1="-14.41" x2="6.43" y2="-15.52" stroke="#555" stroke-width="0.4"/><line x1="8.67" y1="-12.97" x2="9.33" y2="-13.97" stroke="#555" stroke-width="0.4"/><line x1="12.97" y1="-8.67" x2="13.97" y2="-9.33" stroke="#555" stroke-width="0.4"/><line x1="14.41" y1="-5.97" x2="15.52" y2="-6.43" stroke="#555" stroke-width="0.4"/><line x1="15.30" y1="-3.04" x2="16.48" y2="-3.28" stroke="#555" stroke-width="0.4"/><line x1="15.30" y1="3.04" x2="16.48" y2="3.28" stroke="#555" stroke-width="0.4"/><line x1="14.41" y1="5.97" x2="15.52" y2="6.43" stroke="#555" stroke-width="0.4"/><line x1="12.97" y1="8.67" x2="13.97" y2="9.33" stroke="#555" stroke-width="0.4"/><line x1="8.67" y1="12.97" x2="9.33" y2="13.97" stroke="#555" stroke-width="0.4"/><line x1="5.97" y1="14.41" x2="6.43" y2="15.52" stroke="#555" stroke-width="0.4"/><line x1="3.04" y1="15.30" x2="3.28" y2="16.48" stroke="#555" stroke-width="0.4"/><line x1="-3.04" y1="15.30" x2="-3.28" y2="16.48" stroke="#555" stroke-width="0.4"/><line x1="-5.97" y1="14.41" x2="-6.43" y2="15.52" stroke="#555" stroke-width="0.4"/><line x1="-8.67" y1="12.97" x2="-9.33" y2="13.97" stroke="#555" stroke-width="0.4"/><line x1="-12.97" y1="8.67" x2="-13.97" y2="9.33" stroke="#555" stroke-width="0.4"/><line x1="-14.41" y1="5.97" x2="-15.52" y2="6.43" stroke="#555" stroke-width="0.4"/><line x1="-15.30" y1="3.04" x2="-16.48" y2="3.28" stroke="#555" stroke-width="0.4"/><line x1="-15.30" y1="-3.04" x2="-16.48" y2="-3.28" stroke="#555" stroke-width="0.4"/><line x1="-14.41" y1="-5.97" x2="-15.52" y2="-6.43" stroke="#555" stroke-width="0.4"/><line x1="-12.97" y1="-8.67" x2="-13.97" y2="-9.33" stroke="#555" stroke-width="0.4"/><line x1="-8.67" y1="-12.97" x2="-9.33" y2="-13.97" stroke="#555" stroke-width="0.4"/><line x1="-5.97" y1="-14.41" x2="-6.43" y2="-15.52" stroke="#555" stroke-width="0.4"/><line x1="-3.04" y1="-15.30" x2="-3.28" y2="-16.48" stroke="#555" stroke-width="0.4"/><path d="M0,0L-0.69,-1.66L3.25,-7.85Z" fill="#111" stroke="#111" stroke-width="0.35"/><path d="M0,0L1.66,-0.69L3.25,-7.85Z" fill="#111" stroke="#111" stroke-width="0.35"/><path d="M0,0L1.66,-0.69L7.85,3.25Z" fill="#111" stroke="#111" stroke-width="0.35"/><path d="M0,0L0.69,1.66L7.85,3.25Z" fill="#111" stroke="#111" stroke-width="0.35"/><path d="M0,0L0.69,1.66L-3.25,7.85Z" fill="#111" stroke="#111" stroke-width="0.35"/><path d="M0,0L-1.66,0.69L-3.25,7.85Z" fill="#111" stroke="#111" stroke-width="0.35"/><path d="M0,0L-1.66,0.69L-7.85,-3.25Z" fill="#111" stroke="#111" stroke-width="0.35"/><path d="M0,0L-0.69,-1.66L-7.85,-3.25Z" fill="#111" stroke="#111" stroke-width="0.35"/><path d="M0,0L0.69,-1.66L7.85,-3.25Z" fill="#111" stroke="#111" stroke-width="0.35"/><path d="M0,0L1.66,0.69L7.85,-3.25Z" fill="#111" stroke="#111" stroke-width="0.35"/><path d="M0,0L1.66,0.69L3.25,7.85Z" fill="#111" stroke="#111" stroke-width="0.35"/><path d="M0,0L-0.69,1.66L3.25,7.85Z" fill="#111" stroke="#111" stroke-width="0.35"/><path d="M0,0L-0.69,1.66L-7.85,3.25Z" fill="#111" stroke="#111" stroke-width="0.35"/><path d="M0,0L-1.66,-0.69L-7.85,3.25Z" fill="#111" stroke="#111" stroke-width="0.35"/><path d="M0,0L-1.66,-0.69L-3.25,-7.85Z" fill="#111" stroke="#111" stroke-width="0.35"/><path d="M0,0L0.69,-1.66L-3.25,-7.85Z" fill="#111" stroke="#111" stroke-width="0.35"/><path d="M0,0L0.00,-3.30L8.77,-8.77Z" fill="#111" stroke="#111" stroke-width="0.35"/><path d="M0,0L3.30,-0.00L8.77,-8.77Z" fill="#111" stroke="#111" stroke-width="0.35"/><path d="M0,0L3.30,-0.00L8.77,8.77Z" fill="#111" stroke="#111" stroke-width="0.35"/><path d="M0,0L0.00,3.30L8.77,8.77Z" fill="#111" stroke="#111" stroke-width="0.35"/><path d="M0,0L0.00,3.30L-8.77,8.77Z" fill="#111" stroke="#111" stroke-width="0.35"/><path d="M0,0L-3.30,0.00L-8.77,8.77Z" fill="#111" stroke="#111" stroke-width="0.35"/><path d="M0,0L-3.30,0.00L-8.77,-8.77Z" fill="#111" stroke="#111" stroke-width="0.35"/><path d="M0,0L-0.00,-3.30L-8.77,-8.77Z" fill="#111" stroke="#111" stroke-width="0.35"/><path d="M0,0L-2.55,-2.55L0.00,-17.00Z" fill="#fff" stroke="#111" stroke-width="0.35"/><path d="M0,0L2.55,-2.55L0.00,-17.00Z" fill="#111" stroke="#111" stroke-width="0.35"/><path d="M0,0L2.55,-2.55L17.00,-0.00Z" fill="#fff" stroke="#111" stroke-width="0.35"/><path d="M0,0L2.55,2.55L17.00,-0.00Z" fill="#111" stroke="#111" stroke-width="0.35"/><path d="M0,0L2.55,2.55L0.00,17.00Z" fill="#fff" stroke="#111" stroke-width="0.35"/><path d="M0,0L-2.55,2.55L0.00,17.00Z" fill="#111" stroke="#111" stroke-width="0.35"/><path d="M0,0L-2.55,2.55L-17.00,0.00Z" fill="#fff" stroke="#111" stroke-width="0.35"/><path d="M0,0L-2.55,-2.55L-17.00,0.00Z" fill="#111" stroke="#111" stroke-width="0.35"/></g><text x="329.9" y="320.0" font-family="Liberation Serif, serif" font-size="8" fill="#222" text-anchor="middle">N</text><text x="329.9" y="363.3" font-family="Liberation Serif, serif" font-size="8" fill="#222" text-anchor="middle">S</text><text x="308.4" y="341.1" font-family="Liberation Serif, serif" font-size="8" fill="#222" text-anchor="middle">W</text><text x="349.9" y="341.1" font-family="Liberation Serif, serif" font-size="8" fill="#222" text-anchor="middle">E</text>
<text x="129.7" y="394.4" font-family="Liberation Serif, serif" font-size="11.8" fill="#222" text-anchor="middle">(<tspan font-weight="bold">a</tspan>)</text>
<text x="420" y="394.4" font-family="Liberation Serif, serif" font-size="11.8" fill="#222" text-anchor="middle">(<tspan font-weight="bold">b</tspan>)</text>
</svg></body></html>
